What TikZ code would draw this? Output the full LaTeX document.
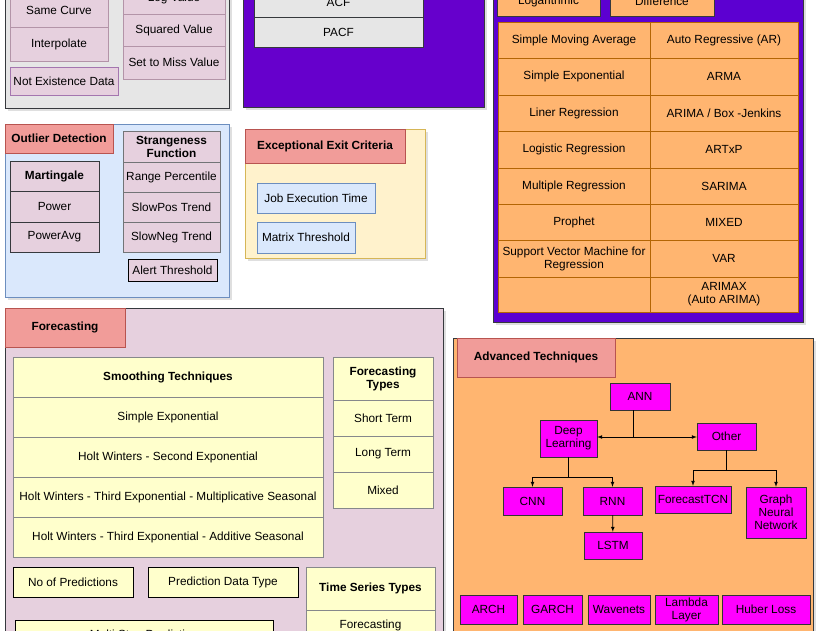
\documentclass[tikz,border=0pt]{standalone}
\usepackage{fontspec}
\setmainfont{Liberation Sans}
\usetikzlibrary{arrows,shadows}
\definecolor{grayfill}{HTML}{E6E6E6}
\definecolor{pinkfill}{HTML}{E6D0DE}
\definecolor{pinkline}{HTML}{B394A8}
\definecolor{violet}{HTML}{6600CC}
\definecolor{orangefill}{HTML}{FFB570}
\definecolor{orangeline}{HTML}{B46504}
\definecolor{salmon}{HTML}{F19C99}
\definecolor{salmonline}{HTML}{B85450}
\definecolor{bluefill}{HTML}{DAE8FC}
\definecolor{blueline}{HTML}{6C8EBF}
\definecolor{yelpanel}{HTML}{FFF2CC}
\definecolor{yelline}{HTML}{D6B656}
\definecolor{yelcell}{HTML}{FFFFCC}
\definecolor{darkline}{HTML}{36393D}
\definecolor{brightmag}{HTML}{FF00FF}
\tikzstyle{cell}  =[draw, inner sep=1pt, align=center, font=\fontsize{11.8}{13}\selectfont]
\tikzstyle{panel} =[draw=darkline, line width=0.8pt, drop shadow={opacity=0.25,shadow xshift=3pt,shadow yshift=-3pt}]
\tikzstyle{pink}  =[fill=pinkfill, draw=pinkline]
\tikzstyle{orng}  =[fill=orangefill, draw=orangeline]
\tikzstyle{head}  =[fill=salmon, draw=salmonline, line width=0.8pt, font=\fontsize{11.8}{13}\selectfont\bfseries]
\tikzstyle{yel}   =[fill=yelcell, draw=darkline!60]
\tikzstyle{mag}   =[fill=brightmag, draw=black!80]
\tikzstyle{arr}   =[-latex, line width=0.7pt]
\newcommand\bx[7][]{\node[cell,#1,minimum width={(#5-#3)*1pt},minimum height={(#6-#4)*1pt}] (#2) at ({(#3+#5)/2},{(#4+#6)/2}) {#7};}

\begin{document}
\begin{tikzpicture}[x=1pt,y=-1pt]
\useasboundingbox (0,0) rectangle (825,630);
\clip (0,0) rectangle (825,630);

%missing data
\bx[panel,fill=grayfill]{missp}{5}{-40}{229}{108}{}
\bx[pink]{same}{10}{-7}{108}{27}{Same Curve}
\bx[pink]{interp}{10}{27}{108}{61}{Interpolate}
\bx[pink,draw=pinkline!80!violet]{notex}{10}{67}{118}{95}{Not Existence Data}
\bx[pink]{logv}{123}{-18}{225}{14}{Log Value}
\bx[pink]{sqv}{123}{14}{225}{46}{Squared Value}
\bx[pink]{miss}{123}{46}{225}{79}{Set to Miss Value}

%correlation
\bx[panel,fill=violet]{corp}{243}{-40}{484}{107}{}
\bx[fill=grayfill,draw=darkline]{acf}{254}{-13}{423}{17}{ACF}
\bx[fill=grayfill,draw=darkline]{pacf}{254}{17}{423}{47}{PACF}

%methods
\bx[panel,fill=violet!90!blue]{metp}{493}{-40}{803}{322}{}
\bx[orng,draw=darkline]{logar}{497}{-14}{600}{16}{Logarithmic}
\bx[orng,draw=darkline]{diff}{610}{-14}{714}{16}{Difference}
\bx[orng]{m1}{498}{22}{650}{58}{Simple Moving Average}
\bx[orng]{m2}{498}{58}{650}{95}{Simple Exponential}
\bx[orng]{m3}{498}{95}{650}{131}{Liner Regression}
\bx[orng]{m4}{498}{131}{650}{168}{Logistic Regression}
\bx[orng]{m5}{498}{168}{650}{204}{Multiple Regression}
\bx[orng]{m6}{498}{204}{650}{240}{Prophet}
\bx[orng]{m7}{498}{240}{650}{277}{Support Vector Machine for\\Regression}
\bx[orng]{m8}{498}{277}{650}{312}{}
\bx[orng]{a1}{650}{22}{798}{58}{Auto Regressive (AR)}
\bx[orng]{a2}{650}{58}{798}{95}{ARMA}
\bx[orng]{a3}{650}{95}{798}{131}{ARIMA / Box -Jenkins}
\bx[orng]{a4}{650}{131}{798}{168}{ARTxP}
\bx[orng]{a5}{650}{168}{798}{204}{SARIMA}
\bx[orng]{a6}{650}{204}{798}{240}{MIXED}
\bx[orng]{a7}{650}{240}{798}{277}{VAR}
\bx[orng]{a8}{650}{277}{798}{312}{ARIMAX\\(Auto ARIMA)}

%outlier detection
\bx[panel,fill=bluefill,draw=blueline]{outp}{5}{124}{229}{297}{}
\bx[head]{outh}{5}{124}{113}{153}{Outlier Detection}
\bx[pink,draw=darkline]{mart}{10}{161}{99}{191}{\bfseries Martingale}
\bx[pink,draw=darkline]{pow}{10}{191}{99}{222}{Power}
\bx[pink,draw=darkline]{powa}{10}{222}{99}{252}{PowerAvg}
\bx[pink,draw=darkline!70]{str}{123}{131}{220}{162}{\bfseries Strangeness\\\bfseries Function}
\bx[pink,draw=darkline!70]{rng}{123}{162}{220}{192}{Range Percentile}
\bx[pink,draw=darkline!70]{spos}{123}{192}{220}{222}{SlowPos Trend}
\bx[pink,draw=darkline!70]{sneg}{123}{222}{220}{252}{SlowNeg Trend}
\bx[pink,draw=black]{alert}{128}{259}{217}{281}{Alert Threshold}

%exit criteria
\bx[panel,fill=yelpanel,draw=yelline]{exp}{245}{129}{425}{258}{}
\bx[head]{exh}{245}{129}{405}{163}{Exceptional Exit Criteria}
\bx[fill=bluefill,draw=blueline]{job}{257}{183}{375}{213}{Job Execution Time}
\bx[fill=bluefill,draw=blueline]{mtx}{257}{222}{355}{253}{Matrix Threshold}

%forecasting
\bx[panel,fill=pinkfill]{fcp}{5}{308}{443}{680}{}
\bx[head]{fch}{5}{308}{125}{347}{Forecasting}
\bx[yel]{s1}{13}{357}{323}{397}{\bfseries Smoothing Techniques}
\bx[yel]{s2}{13}{397}{323}{437}{Simple Exponential}
\bx[yel]{s3}{13}{437}{323}{477}{Holt Winters - Second Exponential}
\bx[yel]{s4}{13}{477}{323}{517}{Holt Winters - Third Exponential - Multiplicative Seasonal}
\bx[yel]{s5}{13}{517}{323}{557}{Holt Winters - Third Exponential - Additive Seasonal}
\bx[yel]{t1}{333}{357}{433}{400}{\bfseries Forecasting\\\bfseries Types}
\bx[yel]{t2}{333}{400}{433}{436}{Short Term}
\bx[yel]{t3}{333}{436}{433}{472}{Long Term}
\bx[yel]{t4}{333}{472}{433}{508}{Mixed}
\bx[yel,draw=black]{nop}{13}{567}{133}{597}{No of Predictions}
\bx[yel,draw=black]{pdt}{148}{567}{298}{597}{Prediction Data Type}
\bx[yel]{ts1}{306}{567}{435}{610}{\bfseries Time Series Types}
\bx[yel]{ts2}{306}{610}{435}{640}{Forecasting}
\bx[yel,draw=black]{msp}{15}{620}{273}{650}{Multi Step Prediction}

%advanced techniques
\bx[panel,fill=orangefill]{adp}{453}{338}{813}{680}{}
\bx[head]{adh}{457}{338}{615}{377}{Advanced Techniques}
\bx[mag]{ann}{610}{383}{670}{410}{ANN}
\bx[mag]{dl}{540}{420}{597}{457}{Deep\\Learning}
\bx[mag]{oth}{697}{423}{756}{450}{Other}
\bx[mag]{cnn}{503}{487}{562}{515}{CNN}
\bx[mag]{rnn}{583}{487}{642}{515}{RNN}
\bx[mag]{lstm}{584}{532}{642}{559}{LSTM}
\bx[mag]{tcn}{655}{486}{731}{513}{ForecastTCN}
\bx[mag]{gnn}{746}{487}{806}{538}{Graph\\Neural\\Network}
\bx[mag]{arch}{460}{595}{517}{624}{ARCH}
\bx[mag]{garch}{523}{595}{582}{624}{GARCH}
\bx[mag]{wave}{588}{595}{650}{624}{Wavenets}
\bx[mag]{lam}{655}{595}{718}{624}{Lambda\\Layer}
\bx[mag]{hub}{722}{595}{810}{624}{Huber Loss}

\coordinate (j1) at (633,437);
\coordinate (j2) at (568,477);
\coordinate (j3) at (726,470);
\draw[line width=0.7pt] (ann.south -| j1) -- (j1);
\draw[arr] (j1) -- (dl.east |- j1);
\draw[arr] (j1) -- (oth.west |- j1);
\draw[line width=0.7pt] (dl.south -| j2) -- (j2);
\draw[arr] (j2) -| (cnn.north);
\draw[arr] (j2) -| (rnn.north);
\draw[arr] (rnn) -- (lstm);
\draw[line width=0.7pt] (oth.south -| j3) -- (j3);
\draw[arr] (j3) -| (tcn.north);
\draw[arr] (j3) -| (gnn.north);
\end{tikzpicture}
\end{document}
